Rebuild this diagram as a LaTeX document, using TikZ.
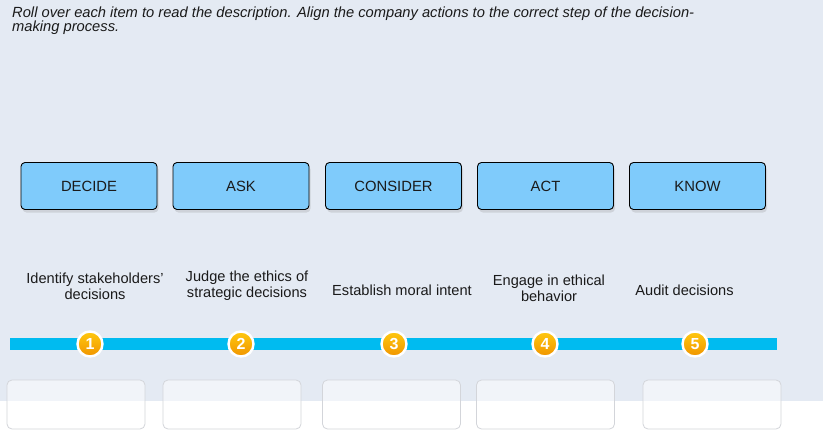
\documentclass[tikz,border=0pt]{standalone}
\usepackage{fontspec}
\setmainfont{Liberation Sans}
\usetikzlibrary{shadows}
\definecolor{bgblue}{HTML}{E4EAF3}
\definecolor{btnblue}{HTML}{7FCBFB}
\definecolor{linecyan}{HTML}{00BBF0}
\definecolor{boxgray}{HTML}{D3D5DA}
\definecolor{orangetop}{HTML}{FFC80F}
\definecolor{orangebot}{HTML}{F09500}
\definecolor{txtgray}{HTML}{1A1A1A}
\tikzset{
  btn/.style={draw=black, line width=0.9pt, fill=btnblue, rounded corners=4pt,
    minimum width=136pt, minimum height=47pt, inner sep=0pt,
    font=\fontsize{14.8}{16}\selectfont, text=txtgray,
    drop shadow={opacity=0.22, shadow xshift=1.5pt, shadow yshift=-3pt}},
  lbl/.style={align=center, inner sep=0pt, font=\fontsize{14.6}{16}\selectfont, text=txtgray},
  ttl/.style={anchor=base west, inner sep=0pt, font=\itshape\fontsize{14.7}{13}\selectfont, text=txtgray},
  numdot/.style={circle, draw=white, line width=2.4pt, minimum size=25pt, inner sep=0pt,
    top color=orangetop, bottom color=orangebot, text=white,
    font=\fontsize{16}{16}\selectfont\bfseries},
  dropbox/.style={draw=boxgray, line width=0.8pt, fill=white, fill opacity=0.5, text opacity=1,
    rounded corners=5pt, minimum width=138pt, minimum height=49pt, inner sep=0pt},
}
\begin{document}
\begin{tikzpicture}[x=1pt,y=-1pt]
\useasboundingbox (0,0) rectangle (823,442);
\fill[white] (0,0) rectangle (823,442);
\fill[bgblue] (0,0) rectangle (823,401);
\node[ttl] (title1) at (12,17.5) {Roll over each item to read the description. Align the company actions to the correct step of the decision-};
\node[ttl] (title2) at (12,31.5) {making process.};
% buttons
\node[btn] (decide) at (89,186) {DECIDE};
\node[btn] (ask) at (241,186) {ASK};
\node[btn] (consider) at (393.5,186) {CONSIDER};
\node[btn] (act) at (545.5,186) {ACT};
\node[btn] (know) at (697.5,186) {KNOW};
% labels
\node[lbl] (l1) at (95,286) {Identify stakeholders'\\decisions};
\node[lbl] (l2) at (247,286) {Judge the ethics of\\strategic decisions};
\node[lbl] (l3) at (402,290) {Establish moral intent};
\node[lbl] (l4) at (549,288) {Engage in ethical\\behavior};
\node[lbl] (l5) at (684.5,290) {Audit decisions};
% timeline
\coordinate (ls) at (10,344);
\coordinate (le) at (777,344);
\draw[linecyan, line width=12pt] (ls) -- (le);
\node[numdot] (n1) at (90,344) {1};
\node[numdot] (n2) at (241,344) {2};
\node[numdot] (n3) at (394,344) {3};
\node[numdot] (n4) at (545,344) {4};
\node[numdot] (n5) at (695,344) {5};
% drop boxes
\node[dropbox] (b1) at (76,404.5) {};
\node[dropbox] (b2) at (232,404.5) {};
\node[dropbox] (b3) at (391.5,404.5) {};
\node[dropbox] (b4) at (545.5,404.5) {};
\node[dropbox] (b5) at (712,404.5) {};
\end{tikzpicture}
\end{document}
